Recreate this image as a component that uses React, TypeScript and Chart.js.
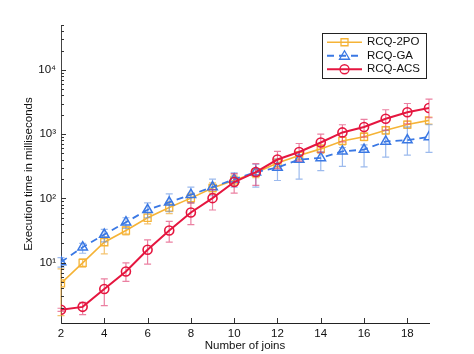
import React, { useEffect, useRef } from "react";
import { Chart, registerables } from "chart.js";

Chart.register(...registerables);

// ---- data ----
const joins = [2, 3, 4, 5, 6, 7, 8, 9, 10, 11, 12, 13, 14, 15, 16, 17, 18, 19];

const rcq2po = [4.75, 9.9, 20.8, 31.6, 50, 72, 101, 145, 191, 250, 355, 465, 590, 785, 910, 1150, 1410, 1640];
const rcq2poLow = [1.5, 8.5, 13.7, 27, 40, 58, 85, 120, 160, 210, 300, 400, 500, 680, 790, 1000, 1230, 1430];
const rcq2poHigh = [8, 11.5, 25, 36, 60, 88, 120, 175, 230, 290, 410, 530, 680, 900, 1050, 1300, 1600, 1850];

const rcqGA = [10.2, 17.4, 27.4, 42.6, 66.5, 87, 114, 150, 198, 256, 302, 402, 427, 540, 575, 770, 810, 905];
const rcqGALow = [8.5, 14, 21, 34, 50, 62, 85, 110, 150, 150, 190, 200, 270, 316, 310, 440, 470, 520];
const rcqGAHigh = [12, 20, 33, 50, 85, 118, 150, 200, 250, 340, 410, 480, 530, 620, 680, 1150, 1300, 1400];

const rcqACS = [1.85, 2.05, 3.88, 7.3, 15.9, 31.6, 60.4, 101, 180, 257, 403, 528, 741, 1064, 1290, 1740, 2190, 2560];
const rcqACSLow = [1.75, 1.55, 2.15, 5.1, 9.5, 20.8, 39, 66, 121, 160, 290, 380, 520, 760, 900, 1150, 1450, 1800];
const rcqACSHigh = [1.95, 2.4, 5.6, 9.9, 22.7, 44, 85, 137, 243, 348, 540, 715, 1000, 1400, 1700, 2400, 3000, 3500];

const seriesLabels = ["RCQ-2PO", "RCQ-GA", "RCQ-ACS"];
const xTickValues = [2, 4, 6, 8, 10, 12, 14, 16, 18];
const yDecades = [10, 100, 1000, 10000];
const yMin = 1.15;
const yMax = 50000;
const xMin = 2;
const xMax = 19;

const SUP: Record<string, string> = { "0": "⁰", "1": "¹", "2": "²", "3": "³", "4": "⁴", "5": "⁵", "6": "⁶", "7": "⁷", "8": "⁸", "9": "⁹" };
const powLabel = (v: number) => "10" + String(Math.round(Math.log10(v))).split("").map((c) => SUP[c]).join("");

const FONT = "'Liberation Sans', Arial, Helvetica, sans-serif";

const YELLOW = "#F5B336";
const BLUE = "#3A78E4";
const RED = "#E5163F";

function drawMarker(ctx: CanvasRenderingContext2D, style: string, x: number, y: number, color: string, lw: number) {
  ctx.save();
  ctx.setLineDash([]);
  ctx.strokeStyle = color;
  ctx.lineWidth = lw;
  ctx.beginPath();
  if (style === "rect") {
    ctx.rect(x - 3.5, y - 3.5, 7, 7);
  } else if (style === "triangle") {
    ctx.moveTo(x, y - 5);
    ctx.lineTo(x + 5, y + 3.5);
    ctx.lineTo(x - 5, y + 3.5);
    ctx.closePath();
  } else {
    ctx.arc(x, y, 4.5, 0, Math.PI * 2);
  }
  ctx.stroke();
  ctx.restore();
}

const errorBarPlugin = {
  id: "errorBars",
  beforeDatasetDraw(chart: any, args: any) {
    const ds = chart.data.datasets[args.index];
    if (!ds.errLow) return;
    const ctx: CanvasRenderingContext2D = chart.ctx;
    const xs = chart.scales.x;
    const ys = chart.scales.y;
    const area = chart.chartArea;
    ctx.save();
    ctx.beginPath();
    ctx.rect(area.left - 6, area.top, area.right - area.left + 12, area.bottom - area.top);
    ctx.clip();
    ctx.strokeStyle = ds.errColor;
    ctx.lineWidth = 1.2;
    ctx.setLineDash([]);
    const cap = 3.5;
    for (let i = 0; i < joins.length; i++) {
      const x = xs.getPixelForValue(joins[i]);
      const yl = ys.getPixelForValue(ds.errLow[i]);
      const yh = ys.getPixelForValue(ds.errHigh[i]);
      ctx.beginPath();
      ctx.moveTo(x, yl);
      ctx.lineTo(x, yh);
      ctx.moveTo(x - cap, yl);
      ctx.lineTo(x + cap, yl);
      ctx.moveTo(x - cap, yh);
      ctx.lineTo(x + cap, yh);
      ctx.stroke();
    }
    ctx.restore();
  },
};

const axisTicksPlugin = {
  id: "inwardTicks",
  afterDatasetsDraw(chart: any) {
    const ctx: CanvasRenderingContext2D = chart.ctx;
    const xs = chart.scales.x;
    const ys = chart.scales.y;
    const area = chart.chartArea;
    ctx.save();
    ctx.strokeStyle = "#333";
    ctx.lineWidth = 1;
    ctx.setLineDash([]);
    ctx.beginPath();
    for (let e = 0; e <= 4; e++) {
      for (let m = 1; m <= 9; m++) {
        const v = m * Math.pow(10, e);
        if (v < yMin || v > yMax) continue;
        const y = Math.round(ys.getPixelForValue(v)) + 0.5;
        const len = m === 1 ? 5 : 3;
        ctx.moveTo(area.left, y);
        ctx.lineTo(area.left + len, y);
      }
    }
    for (const v of xTickValues) {
      const x = Math.round(xs.getPixelForValue(v)) + 0.5;
      ctx.moveTo(x, area.bottom);
      ctx.lineTo(x, area.bottom - 5);
    }
    ctx.stroke();
    ctx.restore();
  },
};

const legendPlugin = {
  id: "boxLegend",
  afterDraw(chart: any) {
    const ctx: CanvasRenderingContext2D = chart.ctx;
    const datasets = chart.data.datasets;
    const area = chart.chartArea;
    ctx.save();
    ctx.font = "11.5px " + FONT;
    let maxW = 0;
    for (const ds of datasets) maxW = Math.max(maxW, ctx.measureText(ds.label).width);
    const left = area.left + 261;
    const top = area.top + 8;
    const lineStart = left + 5;
    const lineEnd = left + 40;
    const textX = left + 45;
    const rowH = 13.5;
    const width = textX - left + maxW + 6;
    const height = rowH * datasets.length + 4;
    ctx.fillStyle = "#fff";
    ctx.fillRect(left, top, width, height);
    ctx.strokeStyle = "#222";
    ctx.lineWidth = 1;
    ctx.strokeRect(Math.round(left) + 0.5, Math.round(top) + 0.5, Math.round(width), Math.round(height));
    datasets.forEach((ds: any, i: number) => {
      const y = top + 2 + rowH * (i + 0.5) + 0.5;
      ctx.strokeStyle = ds.borderColor;
      ctx.lineWidth = ds.borderWidth;
      ctx.setLineDash(ds.borderDash || []);
      ctx.beginPath();
      ctx.moveTo(lineStart, y);
      ctx.lineTo(lineEnd, y);
      ctx.stroke();
      drawMarker(ctx, ds.pointStyle, (lineStart + lineEnd) / 2, y, ds.borderColor, 1.3);
      ctx.fillStyle = "#111";
      ctx.textBaseline = "middle";
      ctx.textAlign = "left";
      ctx.fillText(ds.label, textX, y);
    });
    ctx.restore();
  },
};

export default function App() {
  const canvasRef = useRef<HTMLCanvasElement | null>(null);

  useEffect(() => {
    if (!canvasRef.current) return;
    const mk = (ys: number[]) => joins.map((x, i) => ({ x, y: ys[i] }));
    const chart = new Chart(canvasRef.current, {
      type: "line",
      data: {
        datasets: [
          {
            label: seriesLabels[0],
            data: mk(rcq2po),
            borderColor: YELLOW,
            borderWidth: 1.6,
            pointStyle: "rect",
            pointRadius: 5,
            pointBorderWidth: 1.3,
            pointBackgroundColor: "rgba(0,0,0,0)",
            pointBorderColor: YELLOW,
            order: 2,
            errLow: rcq2poLow,
            errHigh: rcq2poHigh,
            errColor: "rgba(240,170,50,0.7)",
          } as any,
          {
            label: seriesLabels[1],
            data: mk(rcqGA),
            borderColor: BLUE,
            borderWidth: 1.8,
            borderDash: [7, 5],
            pointStyle: "triangle",
            pointRadius: 5.5,
            pointBorderWidth: 1.5,
            pointBackgroundColor: "rgba(0,0,0,0)",
            pointBorderColor: BLUE,
            order: 1,
            errLow: rcqGALow,
            errHigh: rcqGAHigh,
            errColor: "rgba(90,140,225,0.6)",
          } as any,
          {
            label: seriesLabels[2],
            data: mk(rcqACS),
            borderColor: RED,
            borderWidth: 2,
            pointStyle: "circle",
            pointRadius: 4.5,
            pointBorderWidth: 1.6,
            pointBackgroundColor: "rgba(0,0,0,0)",
            pointBorderColor: RED,
            order: 0,
            errLow: rcqACSLow,
            errHigh: rcqACSHigh,
            errColor: "rgba(225,60,110,0.65)",
          } as any,
        ],
      },
      options: {
        animation: false,
        responsive: false,
        maintainAspectRatio: false,
        layout: { padding: { top: 25, right: 45, left: 0, bottom: 0 } },
        plugins: {
          legend: { display: false },
          tooltip: { enabled: false },
        },
        scales: {
          x: {
            type: "linear",
            min: xMin,
            max: xMax,
            grid: { display: true, drawOnChartArea: false, drawTicks: false },
            border: { display: true, color: "#222", width: 1 },
            afterBuildTicks: (scale: any) => {
              scale.ticks = xTickValues.map((v) => ({ value: v }));
            },
            afterFit: (scale: any) => {
              scale.height = 31;
            },
            ticks: {
              padding: 4,
              color: "#111",
              font: { family: FONT, size: 11.5 },
              maxRotation: 0,
              autoSkip: false,
              callback: (v: any) => String(v),
            },
            title: {
              display: true,
              text: "Number of joins",
              color: "#111",
              font: { family: FONT, size: 11.5 },
              padding: { top: 0, bottom: 1 },
            },
          },
          y: {
            type: "logarithmic",
            min: yMin,
            max: yMax,
            grid: { display: true, drawOnChartArea: false, drawTicks: false },
            border: { display: true, color: "#444", width: 1 },
            afterBuildTicks: (scale: any) => {
              scale.ticks = yDecades.map((v) => ({ value: v, major: true }));
            },
            afterFit: (scale: any) => {
              scale.width = 61;
            },
            ticks: {
              padding: 5,
              color: "#111",
              font: { family: FONT, size: 11.5 },
              autoSkip: false,
              callback: (v: any) => powLabel(Number(v)),
            },
            title: {
              display: true,
              text: "Execution time in milliseconds",
              color: "#111",
              font: { family: FONT, size: 11.5 },
              padding: { top: 22, bottom: 0 },
            },
          },
        },
      },
      plugins: [errorBarPlugin, axisTicksPlugin, legendPlugin],
    } as any);
    return () => chart.destroy();
  }, []);

  return (
    <div style={{ position: "fixed", left: 0, top: 0, width: 474, height: 354, background: "#fff" }}>
      <canvas ref={canvasRef} width={474} height={354} style={{ width: 474, height: 354, display: "block" }} />
    </div>
  );
}
